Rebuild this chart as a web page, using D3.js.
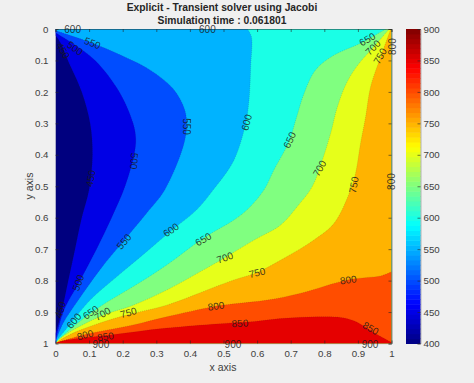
<!DOCTYPE html>
<html>
<head>
<meta charset="utf-8">
<script src="https://cdnjs.cloudflare.com/ajax/libs/d3/7.8.5/d3.min.js"></script>
<style>
  html, body { margin: 0; padding: 0; background: #f0f0f0; }
  svg { display: block; }
  text { font-family: "Liberation Sans", sans-serif; }
</style>
</head>
<body>
<svg id="chart" width="474" height="383"></svg>
<script>
// contour lines, [x, y] in axis units
const c450 = [[0,0.02],[0.018,0.05],[0.037,0.1],[0.078,0.2],[0.103,0.3],[0.11,0.4],[0.1,0.51],[0.078,0.6],[0.058,0.7],[0.038,0.8],[0.018,0.9],[0,0.97]];
const c500 = [[0,0.012],[0.05,0.045],[0.118,0.1],[0.19,0.2],[0.231,0.3],[0.239,0.35],[0.234,0.4],[0.207,0.5],[0.167,0.6],[0.122,0.7],[0.073,0.8],[0.023,0.9],[0.003,0.98]];
const c550 = [[0,0.005],[0.11,0.045],[0.182,0.077],[0.281,0.13],[0.35,0.19],[0.385,0.258],[0.39,0.31],[0.38,0.374],[0.325,0.512],[0.271,0.586],[0.201,0.676],[0.132,0.766],[0.068,0.862],[0.023,0.935],[0.005,0.98]];
const c600 = [[0.571,0],[0.583,0.024],[0.581,0.12],[0.576,0.226],[0.566,0.3],[0.531,0.417],[0.469,0.512],[0.42,0.575],[0.346,0.64],[0.271,0.708],[0.182,0.788],[0.103,0.862],[0.037,0.947],[0.008,0.985]];
const c650 = [[0.983,0],[0.908,0.045],[0.829,0.083],[0.774,0.13],[0.74,0.204],[0.715,0.289],[0.695,0.358],[0.65,0.448],[0.62,0.512],[0.57,0.575],[0.531,0.607],[0.44,0.665],[0.331,0.75],[0.231,0.819],[0.132,0.883],[0.052,0.947],[0.012,0.985]];
const c700 = [[0.993,0],[0.948,0.056],[0.903,0.11],[0.868,0.168],[0.839,0.247],[0.819,0.331],[0.794,0.417],[0.764,0.501],[0.719,0.565],[0.67,0.623],[0.591,0.671],[0.504,0.727],[0.43,0.772],[0.331,0.83],[0.231,0.878],[0.142,0.91],[0.052,0.957],[0.012,0.985]];
const c750 = [[0.998,0],[0.968,0.088],[0.938,0.183],[0.923,0.279],[0.908,0.363],[0.893,0.459],[0.878,0.512],[0.829,0.618],[0.769,0.671],[0.68,0.729],[0.6,0.774],[0.531,0.798],[0.48,0.818],[0.331,0.878],[0.217,0.908],[0.132,0.935],[0.052,0.967],[0.012,0.99]];
const c800 = [[1,0.772],[0.968,0.785],[0.928,0.79],[0.868,0.798],[0.73,0.84],[0.63,0.862],[0.531,0.874],[0.469,0.883],[0.331,0.915],[0.231,0.941],[0.082,0.973],[0.012,0.995]];
const c850 = [[1,0.997],[0.968,0.978],[0.928,0.952],[0.888,0.928],[0.849,0.917],[0.779,0.915],[0.68,0.92],[0.581,0.931],[0.531,0.934],[0.331,0.951],[0.162,0.973],[0.033,0.989],[0,0.998]];

const levels = [450, 500, 550, 600, 650, 700, 750, 800, 850];
const contourLines = [c450, c500, c550, c600, c650, c700, c750, c800, c850];

const xTicks = [0, 0.1, 0.2, 0.3, 0.4, 0.5, 0.6, 0.7, 0.8, 0.9, 1];
const yTicks = [0, 0.1, 0.2, 0.3, 0.4, 0.5, 0.6, 0.7, 0.8, 0.9, 1];
const barTicks = [400, 450, 500, 550, 600, 650, 700, 750, 800, 850, 900];

// inline labels: level, x, y, rotation
const labelLevels = [600,600,550,500,450,550,500,450,600,650,700,650,700,750,800,800,750,600,650,700,550,500,450,600,650,700,750,800,850,900,800,850,900,750,800,850,900];
const labelX = [0.051,0.452,0.11,0.058,0.023,0.39,0.234,0.105,0.569,0.697,0.786,0.928,0.945,0.966,1.004,1,0.888,0.344,0.44,0.504,0.204,0.068,0.015,0.055,0.105,0.14,0.217,0.088,0.149,0.135,0.478,0.549,0.528,0.6,0.871,0.938,0.936];
const labelY = [0.001,0.001,0.045,0.061,0.069,0.31,0.42,0.475,0.297,0.353,0.443,0.033,0.059,0.086,0.056,0.485,0.496,0.639,0.669,0.727,0.676,0.807,0.893,0.928,0.901,0.906,0.902,0.973,0.978,1.003,0.881,0.936,1.003,0.775,0.798,0.952,1.003];
const labelAngle = [0,0,20,35,60,90,95,-80,-75,-65,-60,-30,-45,-60,-90,-90,-80,-35,-30,-20,-50,-70,-75,-50,-35,-30,-15,-15,-8,0,-8,-3,0,-12,-8,30,0];

const box = { left: 55.5, right: 391.5, top: 29, bottom: 343.5 };
const bar = { left: 406, right: 420.5 };
const grey = "#404040";

const x = d3.scaleLinear().domain([0, 1]).range([box.left, box.right]);
const y = d3.scaleLinear().domain([0, 1]).range([box.top, box.bottom]);
const barY = d3.scaleLinear().domain([400, 900]).range([box.bottom, box.top]);
const jet = d3.scaleLinear()
    .domain([400, 462.5, 587.5, 712.5, 837.5, 900])
    .range(["#00007f", "#0000ff", "#00ffff", "#ffff00", "#ff0000", "#7f0000"]);

const svg = d3.select("#chart");

svg.append("defs").append("clipPath").attr("id", "plotClip")
    .append("rect")
    .attr("x", box.left).attr("y", box.top)
    .attr("width", box.right - box.left).attr("height", box.bottom - box.top);

const line = d3.line().x(d => x(d[0])).y(d => y(d[1])).curve(d3.curveCatmullRom.alpha(0.5));
const edge = d3.line().x(d => x(d[0])).y(d => y(d[1]));

// walk round the warm side of a contour, back along the top edge to where it starts
function warmSide(c) {
    const corners = [[0, 1], [1, 1], [1, 0], [c[0][0], 0]];
    return line(c) + "L" + edge(corners).slice(1) + "Z";
}

const gBands = svg.append("g").attr("clip-path", "url(#plotClip)");

// lowest band first, every level paints its warm side on top
gBands.append("rect")
    .attr("x", box.left).attr("y", box.top)
    .attr("width", box.right - box.left).attr("height", box.bottom - box.top)
    .attr("fill", jet(400));

gBands.selectAll("path.band")
    .data(contourLines)
    .join("path")
    .attr("class", "band")
    .attr("fill", (d, i) => jet(levels[i]))
    .attr("d", warmSide);

gBands.selectAll("path.level")
    .data(contourLines)
    .join("path")
    .attr("class", "level")
    .attr("fill", "none")
    .attr("stroke", "#202020")
    .attr("stroke-opacity", 0.25)
    .attr("stroke-width", 0.6)
    .attr("stroke-dasharray", "1,1")
    .attr("d", d => line(d));

// axes, ticks point inwards
function styleAxis(g, domainOpacity) {
    g.selectAll("text").attr("fill", grey).style("font-size", "9.7px").style("font-family", '"Liberation Sans", sans-serif');
    g.selectAll("line").attr("stroke", "#262626").attr("stroke-opacity", 0.6);
    g.select(".domain").attr("stroke", "#262626").attr("stroke-opacity", domainOpacity);
}

const fmt = d => d3.format("~g")(d);

svg.append("g")
    .attr("transform", `translate(0,${box.bottom})`)
    .call(d3.axisBottom(x).tickValues(xTicks).tickFormat(fmt).tickSize(-3).tickPadding(7))
    .call(styleAxis, 0.1);
svg.append("g")
    .attr("transform", `translate(0,${box.top})`)
    .call(d3.axisTop(x).tickValues(xTicks).tickFormat("").tickSize(-3))
    .call(styleAxis, 0.5);
svg.append("g")
    .attr("transform", `translate(${box.left},0)`)
    .call(d3.axisLeft(y).tickValues(yTicks).tickFormat(fmt).tickSize(-3).tickPadding(7))
    .call(styleAxis, 0.1);
svg.append("g")
    .attr("transform", `translate(${box.right},0)`)
    .call(d3.axisRight(y).tickValues(yTicks).tickFormat("").tickSize(-3))
    .call(styleAxis, 0.5);

// colorbar
const steps = d3.range(64);
const stepH = (box.bottom - box.top) / steps.length;
svg.append("g").selectAll("rect")
    .data(steps)
    .join("rect")
    .attr("x", bar.left)
    .attr("width", bar.right - bar.left)
    .attr("y", d => barY(400 + (d + 1) * 500 / 64))
    .attr("height", stepH + 0.5)
    .attr("fill", d => jet(400 + (d + 0.5) * 500 / 64));

svg.append("g")
    .attr("transform", `translate(${bar.right},0)`)
    .call(d3.axisRight(barY).tickValues(barTicks).tickFormat(d3.format("d")).tickSize(-3).tickPadding(3))
    .call(styleAxis, 0.3);

// inline contour labels
svg.append("g").selectAll("text")
    .data(labelLevels)
    .join("text")
    .attr("text-anchor", "middle")
    .attr("dominant-baseline", "central")
    .attr("font-size", 10)
    .attr("fill", "#1a1a1a")
    .attr("fill-opacity", 0.85)
    .attr("transform", (d, i) => `translate(${x(labelX[i])},${y(labelY[i])}) rotate(${labelAngle[i]})`)
    .text(d => d);

// titles
svg.append("text").attr("x", 222).attr("y", 11).attr("text-anchor", "middle")
    .attr("font-size", 10.3).attr("font-weight", "bold").attr("fill", "#262626")
    .text("Explicit - Transient solver using Jacobi");
svg.append("text").attr("x", 222).attr("y", 24).attr("text-anchor", "middle")
    .attr("font-size", 10.3).attr("font-weight", "bold").attr("fill", "#262626")
    .text("Simulation time : 0.061801");
svg.append("text").attr("x", 223).attr("y", 371).attr("text-anchor", "middle")
    .attr("font-size", 10.5).attr("fill", grey).text("x axis");
svg.append("text").attr("text-anchor", "middle")
    .attr("transform", `translate(33,186) rotate(-90)`)
    .attr("font-size", 10.5).attr("fill", grey).text("y axis");
</script>
</body>
</html>
